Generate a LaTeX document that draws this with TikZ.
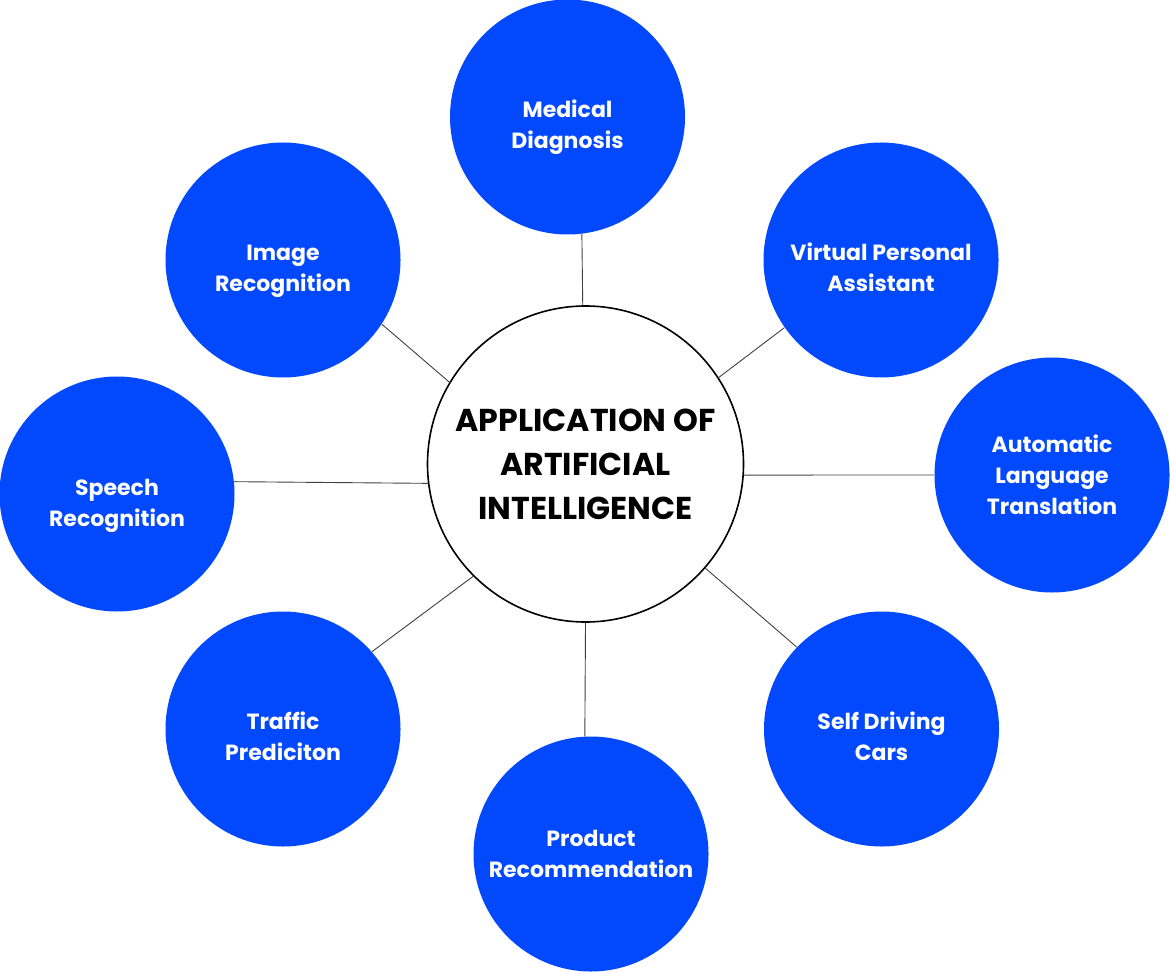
\documentclass[tikz,border=0pt]{standalone}
\usepackage{fontspec}
\setmainfont[Ligatures=NoCommon]{Poppins}
\usepackage{xcolor}
\usepackage{tikz}
\definecolor{aiblue}{RGB}{2,72,252}

\begin{document}
\begin{tikzpicture}[x=0.5pt,y=-0.5pt,
  app/.style={circle,fill=aiblue,minimum size=117.5pt,inner sep=0pt,text=white,align=center,font=\bfseries\fontsize{11}{15.5}\selectfont},
  drop/.style={text height=#1},
  core/.style={circle,draw=black,line width=0.8pt,fill=white,minimum size=158pt,inner sep=0pt,align=center,font=\bfseries\fontsize{15.8}{22}\selectfont},
  link/.style={draw=black!75,line width=0.45pt}]
\useasboundingbox (0,0) rectangle (1170,972);
\node[core] (ai) at (585.5,464) {APPLICATION OF\\ARTIFICIAL\\INTELLIGENCE};
\node[app,drop=35pt] (med) at (567.5,117) {Medical\\Diagnosis};
\node[app,drop=35pt] (img) at (283,260) {Image\\Recognition};
\node[app,drop=32pt] (vpa) at (881,260) {Virtual Personal\\Assistant};
\node[app,drop=35.5pt] (speech) at (117,494) {Speech\\Recognition};
\node[app] (auto) at (1052,475) {Automatic\\Language\\Translation};
\node[app,drop=32pt] (traffic) at (283,729) {Traffic\\Prediciton};
\node[app,drop=32pt] (cars) at (881.5,729) {Self Driving\\Cars};
\node[app] (prod) at (591,854) {Product\\Recommendation};
\draw[link] (ai.91) -- (med.-83);
\draw[link] (ai.149) -- (img.-33);
\draw[link] (ai.33) -- (vpa.215);
\draw[link] (ai.187) -- (speech.6);
\draw[link] (ai.-4) -- (auto.180);
\draw[link] (ai.225) -- (traffic.41);
\draw[link] (ai.-41) -- (cars.136);
\draw[link] (ai.-90) -- (prod.93);
\end{tikzpicture}
\end{document}
